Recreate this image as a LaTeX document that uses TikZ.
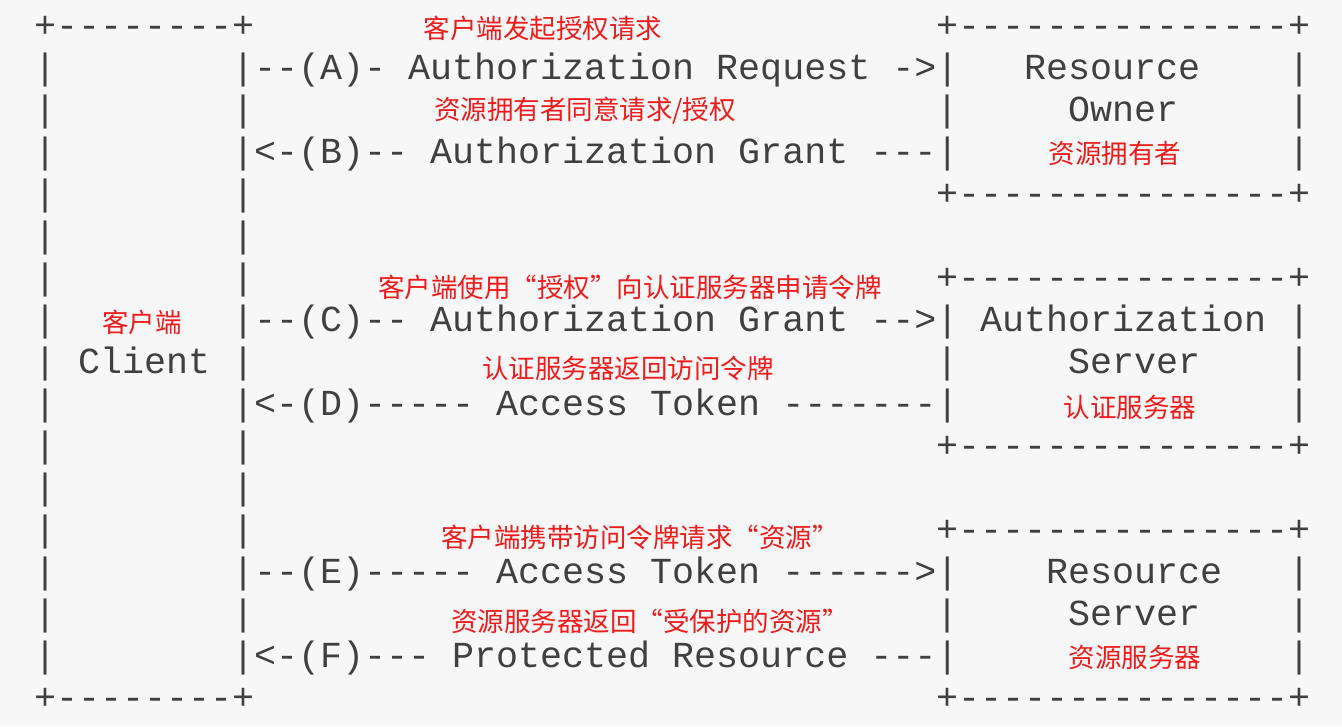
\documentclass[tikz,border=0pt]{standalone}
\usepackage{fontspec}
\setmonofont{Liberation Mono}
\newfontfamily\cjk{Noto Sans CJK SC}
\definecolor{bg}{HTML}{F7F7F7}
\definecolor{ink}{HTML}{404040}
\definecolor{rd}{HTML}{EE1C1C}
\begin{document}
\begin{tikzpicture}[x=1pt,y=-1pt,
  seg/.style={anchor=west,inner sep=0pt,text height=24pt,text depth=0pt,text=ink,font=\ttfamily\fontsize{36.67pt}{40pt}\selectfont},
  ann/.style={inner sep=0pt,text=rd,font=\cjk\fontsize{26.5pt}{30pt}\selectfont}]
\fill[bg] (0,0) rectangle (1342,726);
\useasboundingbox (0,0) rectangle (1342,726);
\newcommand\sg[4]{\node[seg] (#1) at ({34+22*#2},{25+42*#3}) {#4};}
% left box sides
\foreach \r in {1,...,15}{
  \node[seg] (la\r) at (34,{25+42*\r}) {|};}
\foreach \r in {2,4,5,6,8,10,11,12,14}{
  \node[seg] (lb\r) at ({34+22*9},{25+42*\r}) {|};}
% right box sides
\foreach \r in {2,8,14}{
  \node[seg] (ra\r) at ({34+22*41},{25+42*\r}) {|};}
\foreach \r in {1,2,3,7,8,9,13,14,15}{
  \node[seg] (rb\r) at ({34+22*57},{25+42*\r}) {|};}
\sg{t0}{0}{0}{+--------+}
\sg{t16}{0}{16}{+--------+}
\sg{b0}{41}{0}{+---------------+}
\sg{b4}{41}{4}{+---------------+}
\sg{b6}{41}{6}{+---------------+}
\sg{b10}{41}{10}{+---------------+}
\sg{b12}{41}{12}{+---------------+}
\sg{b16}{41}{16}{+---------------+}
\sg{a}{9}{1}{|--(A)- Authorization Request ->|}
\sg{b}{9}{3}{|<-(B)-- Authorization Grant ---|}
\sg{c}{9}{7}{|--(C)-- Authorization Grant -->|}
\sg{d}{9}{9}{|<-(D)----- Access Token -------|}
\sg{e}{9}{13}{|--(E)----- Access Token ------>|}
\sg{f}{9}{15}{|<-(F)--- Protected Resource ---|}
\sg{ro1}{45}{1}{Resource}
\sg{ro2}{47}{2}{Owner}
\sg{as1}{43}{7}{Authorization}
\sg{as2}{47}{8}{Server}
\sg{rs1}{46}{13}{Resource}
\sg{rs2}{47}{14}{Server}
\sg{cl}{2}{8}{Client}
% annotations
\node[ann] (n1) at (543,28) {客户端发起授权请求};
\node[ann] (n2) at (585,111) {资源拥有者同意请求/授权};
\node[ann] (n3) at (1115,153) {资源拥有者};
\node[ann] (n4) at (630,287) {客户端使用“授权”向认证服务器申请令牌};
\node[ann] (n5) at (142,322) {客户端};
\node[ann] (n6) at (628,368) {认证服务器返回访问令牌};
\node[ann] (n7) at (1130,407) {认证服务器};
\node[ann] (n8) at (640,537) {客户端携带访问令牌请求“资源”};
\node[ann] (n9) at (650,621) {资源服务器返回“受保护的资源”};
\node[ann] (n10) at (1135,657) {资源服务器};
\end{tikzpicture}
\end{document}
